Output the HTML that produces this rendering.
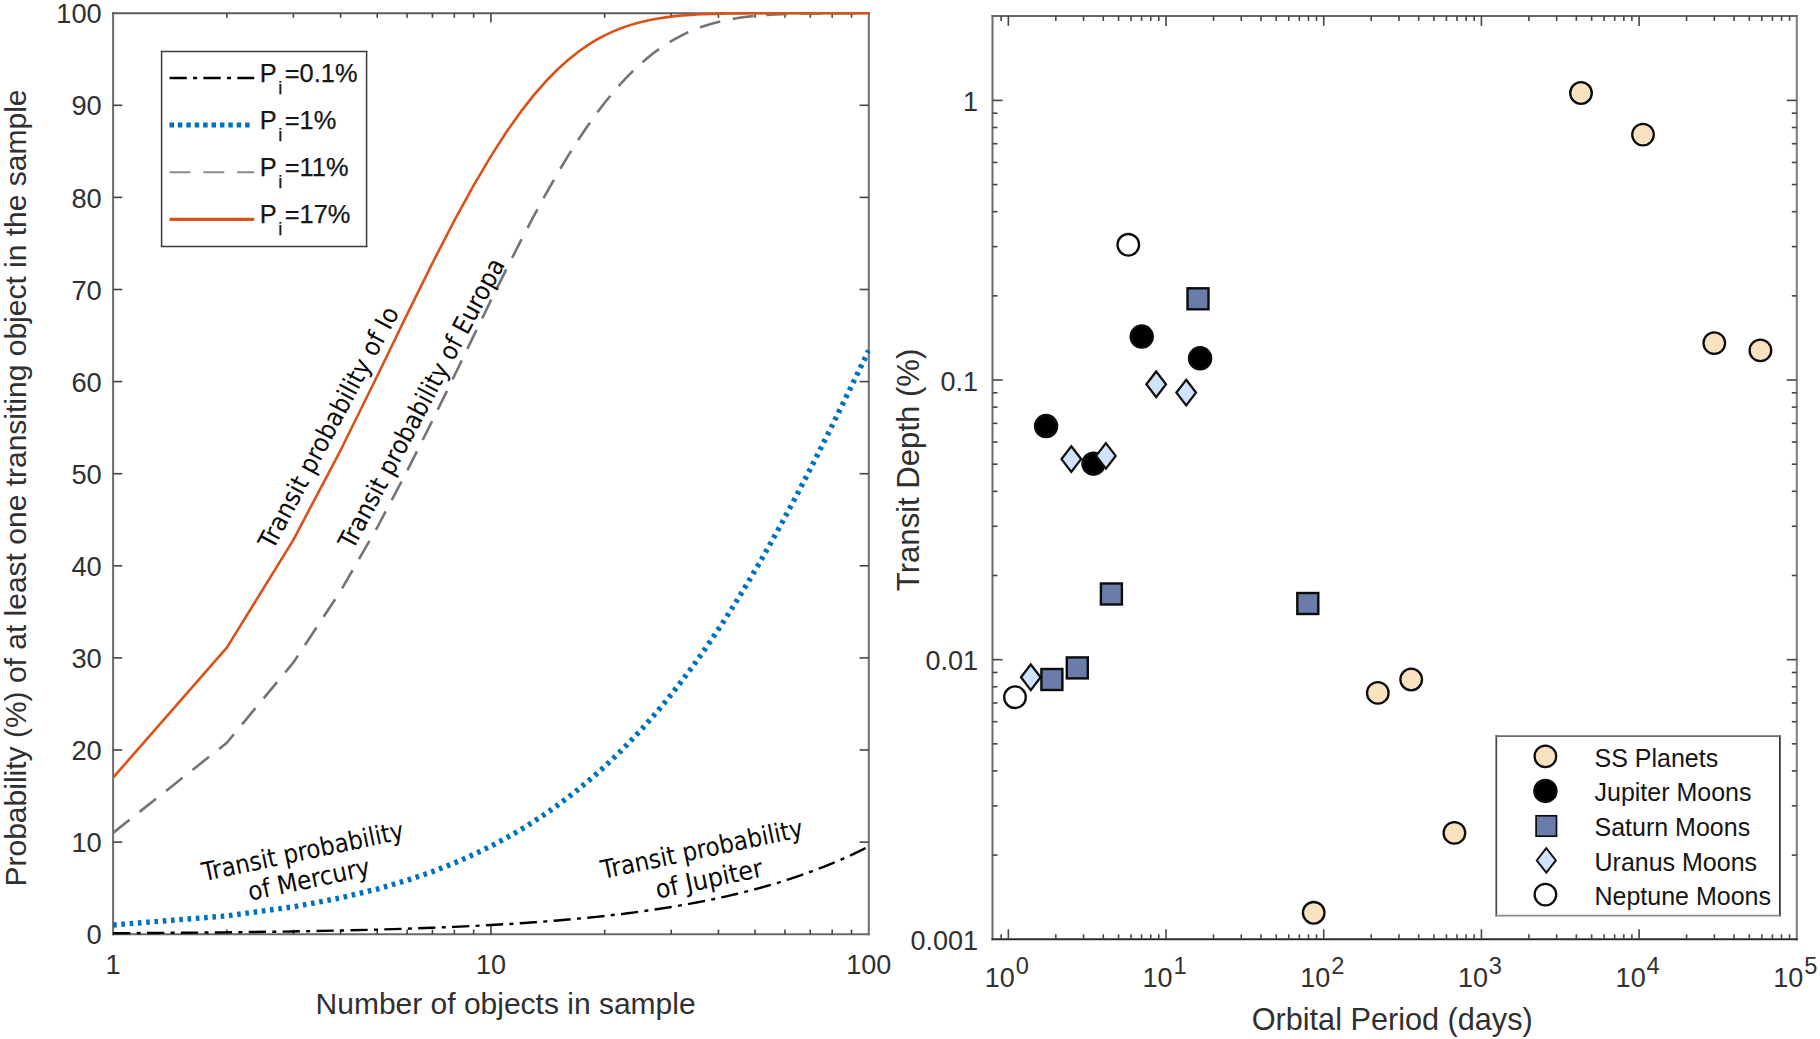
<!DOCTYPE html>
<html lang="en"><head><meta charset="utf-8"><title>Transit probability and transit depth</title>
<style>html,body{margin:0;padding:0;background:#fff}body{width:1820px;height:1039px;overflow:hidden}svg{display:block}text{white-space:pre}</style>
</head><body>
<svg width="1820" height="1039" viewBox="0 0 1820 1039" font-family='"Liberation Sans", sans-serif'>
<rect width="1820" height="1039" fill="#ffffff"/>
<line x1="113.10" y1="12.20" x2="113.10" y2="935.20" stroke="#6c6c6c" stroke-width="2.0" />
<line x1="868.80" y1="12.20" x2="868.80" y2="935.20" stroke="#6e6e6e" stroke-width="2.0" />
<line x1="112.10" y1="13.20" x2="869.80" y2="13.20" stroke="#5c5c5c" stroke-width="2.0" />
<line x1="112.10" y1="934.20" x2="869.80" y2="934.20" stroke="#686868" stroke-width="2.0" />
<line x1="226.84" y1="934.20" x2="226.84" y2="929.60" stroke="#454545" stroke-width="1.6" />
<line x1="226.84" y1="13.20" x2="226.84" y2="17.80" stroke="#454545" stroke-width="1.6" />
<line x1="293.38" y1="934.20" x2="293.38" y2="929.60" stroke="#454545" stroke-width="1.6" />
<line x1="293.38" y1="13.20" x2="293.38" y2="17.80" stroke="#454545" stroke-width="1.6" />
<line x1="340.59" y1="934.20" x2="340.59" y2="929.60" stroke="#454545" stroke-width="1.6" />
<line x1="340.59" y1="13.20" x2="340.59" y2="17.80" stroke="#454545" stroke-width="1.6" />
<line x1="377.21" y1="934.20" x2="377.21" y2="929.60" stroke="#454545" stroke-width="1.6" />
<line x1="377.21" y1="13.20" x2="377.21" y2="17.80" stroke="#454545" stroke-width="1.6" />
<line x1="407.12" y1="934.20" x2="407.12" y2="929.60" stroke="#454545" stroke-width="1.6" />
<line x1="407.12" y1="13.20" x2="407.12" y2="17.80" stroke="#454545" stroke-width="1.6" />
<line x1="432.42" y1="934.20" x2="432.42" y2="929.60" stroke="#454545" stroke-width="1.6" />
<line x1="432.42" y1="13.20" x2="432.42" y2="17.80" stroke="#454545" stroke-width="1.6" />
<line x1="454.33" y1="934.20" x2="454.33" y2="929.60" stroke="#454545" stroke-width="1.6" />
<line x1="454.33" y1="13.20" x2="454.33" y2="17.80" stroke="#454545" stroke-width="1.6" />
<line x1="473.66" y1="934.20" x2="473.66" y2="929.60" stroke="#454545" stroke-width="1.6" />
<line x1="473.66" y1="13.20" x2="473.66" y2="17.80" stroke="#454545" stroke-width="1.6" />
<line x1="490.95" y1="934.20" x2="490.95" y2="925.00" stroke="#454545" stroke-width="1.6" />
<line x1="490.95" y1="13.20" x2="490.95" y2="22.40" stroke="#454545" stroke-width="1.6" />
<line x1="604.69" y1="934.20" x2="604.69" y2="929.60" stroke="#454545" stroke-width="1.6" />
<line x1="604.69" y1="13.20" x2="604.69" y2="17.80" stroke="#454545" stroke-width="1.6" />
<line x1="671.23" y1="934.20" x2="671.23" y2="929.60" stroke="#454545" stroke-width="1.6" />
<line x1="671.23" y1="13.20" x2="671.23" y2="17.80" stroke="#454545" stroke-width="1.6" />
<line x1="718.44" y1="934.20" x2="718.44" y2="929.60" stroke="#454545" stroke-width="1.6" />
<line x1="718.44" y1="13.20" x2="718.44" y2="17.80" stroke="#454545" stroke-width="1.6" />
<line x1="755.06" y1="934.20" x2="755.06" y2="929.60" stroke="#454545" stroke-width="1.6" />
<line x1="755.06" y1="13.20" x2="755.06" y2="17.80" stroke="#454545" stroke-width="1.6" />
<line x1="784.97" y1="934.20" x2="784.97" y2="929.60" stroke="#454545" stroke-width="1.6" />
<line x1="784.97" y1="13.20" x2="784.97" y2="17.80" stroke="#454545" stroke-width="1.6" />
<line x1="810.27" y1="934.20" x2="810.27" y2="929.60" stroke="#454545" stroke-width="1.6" />
<line x1="810.27" y1="13.20" x2="810.27" y2="17.80" stroke="#454545" stroke-width="1.6" />
<line x1="832.18" y1="934.20" x2="832.18" y2="929.60" stroke="#454545" stroke-width="1.6" />
<line x1="832.18" y1="13.20" x2="832.18" y2="17.80" stroke="#454545" stroke-width="1.6" />
<line x1="851.51" y1="934.20" x2="851.51" y2="929.60" stroke="#454545" stroke-width="1.6" />
<line x1="851.51" y1="13.20" x2="851.51" y2="17.80" stroke="#454545" stroke-width="1.6" />
<line x1="113.10" y1="842.10" x2="122.30" y2="842.10" stroke="#454545" stroke-width="1.6" />
<line x1="868.80" y1="842.10" x2="859.60" y2="842.10" stroke="#454545" stroke-width="1.6" />
<line x1="113.10" y1="750.00" x2="122.30" y2="750.00" stroke="#454545" stroke-width="1.6" />
<line x1="868.80" y1="750.00" x2="859.60" y2="750.00" stroke="#454545" stroke-width="1.6" />
<line x1="113.10" y1="657.90" x2="122.30" y2="657.90" stroke="#454545" stroke-width="1.6" />
<line x1="868.80" y1="657.90" x2="859.60" y2="657.90" stroke="#454545" stroke-width="1.6" />
<line x1="113.10" y1="565.80" x2="122.30" y2="565.80" stroke="#454545" stroke-width="1.6" />
<line x1="868.80" y1="565.80" x2="859.60" y2="565.80" stroke="#454545" stroke-width="1.6" />
<line x1="113.10" y1="473.70" x2="122.30" y2="473.70" stroke="#454545" stroke-width="1.6" />
<line x1="868.80" y1="473.70" x2="859.60" y2="473.70" stroke="#454545" stroke-width="1.6" />
<line x1="113.10" y1="381.60" x2="122.30" y2="381.60" stroke="#454545" stroke-width="1.6" />
<line x1="868.80" y1="381.60" x2="859.60" y2="381.60" stroke="#454545" stroke-width="1.6" />
<line x1="113.10" y1="289.50" x2="122.30" y2="289.50" stroke="#454545" stroke-width="1.6" />
<line x1="868.80" y1="289.50" x2="859.60" y2="289.50" stroke="#454545" stroke-width="1.6" />
<line x1="113.10" y1="197.40" x2="122.30" y2="197.40" stroke="#454545" stroke-width="1.6" />
<line x1="868.80" y1="197.40" x2="859.60" y2="197.40" stroke="#454545" stroke-width="1.6" />
<line x1="113.10" y1="105.30" x2="122.30" y2="105.30" stroke="#454545" stroke-width="1.6" />
<line x1="868.80" y1="105.30" x2="859.60" y2="105.30" stroke="#454545" stroke-width="1.6" />
<clipPath id="cl"><rect x="112.6" y="10.2" width="757.6999999999999" height="927.0"/></clipPath>
<g clip-path="url(#cl)" fill="none" stroke-linejoin="round">
<polyline points="113.10,933.28 226.84,932.36 293.38,931.44 340.59,930.52 377.21,929.60 407.12,928.69 432.42,927.77 454.33,926.86 473.66,925.94 490.95,925.03 506.59,924.12 520.87,923.21 534.00,922.30 546.16,921.39 557.49,920.48 568.08,919.57 578.03,918.67 587.40,917.76 596.28,916.86 604.69,915.95 612.70,915.05 620.33,914.15 627.63,913.25 634.61,912.35 641.31,911.45 647.75,910.55 653.94,909.65 659.91,908.76 665.67,907.86 671.23,906.97 676.61,906.07 681.82,905.18 686.87,904.29 691.77,903.40 696.53,902.51 701.15,901.62 705.65,900.73 710.02,899.84 714.28,898.96 718.44,898.07 722.49,897.18 726.44,896.30 730.31,895.42 734.08,894.54 737.77,893.65 741.37,892.77 744.90,891.89 748.36,891.02 751.74,890.14 755.06,889.26 758.31,888.38 761.49,887.51 764.62,886.63 767.68,885.76 770.70,884.89 773.65,884.02 776.56,883.15 779.41,882.28 782.22,881.41 784.97,880.54 787.69,879.67 790.36,878.81 792.98,877.94 795.57,877.07 798.11,876.21 800.61,875.35 803.08,874.49 805.51,873.62 807.91,872.76 810.27,871.90 812.60,871.05 814.89,870.19 817.16,869.33 819.39,868.47 821.59,867.62 823.77,866.77 825.91,865.91 828.03,865.06 830.12,864.21 832.18,863.36 834.22,862.51 836.23,861.66 838.22,860.81 840.19,859.96 842.13,859.11 844.05,858.27 845.95,857.42 847.82,856.58 849.68,855.74 851.51,854.89 853.32,854.05 855.12,853.21 856.89,852.37 858.65,851.53 860.38,850.69 862.10,849.86 863.80,849.02 865.48,848.18 867.15,847.35 868.80,846.51" stroke="#000000" stroke-width="2.4" stroke-dasharray="17.3 6.3 4 6.3"/>
<polyline points="113.10,924.99 226.84,915.87 293.38,906.85 340.59,897.91 377.21,889.06 407.12,880.30 432.42,871.63 454.33,863.05 473.66,854.55 490.95,846.14 506.59,837.81 520.87,829.56 534.00,821.40 546.16,813.31 557.49,805.31 568.08,797.39 578.03,789.55 587.40,781.79 596.28,774.10 604.69,766.49 612.70,758.96 620.33,751.50 627.63,744.12 634.61,736.81 641.31,729.57 647.75,722.41 653.94,715.32 659.91,708.30 665.67,701.35 671.23,694.46 676.61,687.65 681.82,680.91 686.87,674.23 691.77,667.62 696.53,661.08 701.15,654.60 705.65,648.18 710.02,641.83 714.28,635.55 718.44,629.32 722.49,623.16 726.44,617.06 730.31,611.02 734.08,605.05 737.77,599.13 741.37,593.27 744.90,587.47 748.36,581.72 751.74,576.04 755.06,570.41 758.31,564.84 761.49,559.32 764.62,553.86 767.68,548.45 770.70,543.10 773.65,537.80 776.56,532.56 779.41,527.36 782.22,522.22 784.97,517.13 787.69,512.09 790.36,507.10 792.98,502.16 795.57,497.27 798.11,492.43 800.61,487.64 803.08,482.90 805.51,478.20 807.91,473.55 810.27,468.95 812.60,464.39 814.89,459.88 817.16,455.41 819.39,450.99 821.59,446.61 823.77,442.28 825.91,437.99 828.03,433.74 830.12,429.53 832.18,425.37 834.22,421.25 836.23,417.17 838.22,413.13 840.19,409.13 842.13,405.17 844.05,401.25 845.95,397.37 847.82,393.53 849.68,389.72 851.51,385.96 853.32,382.23 855.12,378.54 856.89,374.89 858.65,371.27 860.38,367.69 862.10,364.14 863.80,360.63 865.48,357.16 867.15,353.72 868.80,350.32" stroke="#0072bd" stroke-width="5.4" stroke-dasharray="3.6 4.7"/>
<polyline points="113.10,832.89 226.84,742.72 293.38,662.48 340.59,591.06 377.21,527.49 407.12,470.92 432.42,420.57 454.33,375.76 473.66,335.88 490.95,300.38 506.59,268.79 520.87,240.68 534.00,215.66 546.16,193.39 557.49,173.57 568.08,155.92 578.03,140.23 587.40,126.25 596.28,113.82 604.69,102.75 612.70,92.90 620.33,84.13 627.63,76.33 634.61,69.38 641.31,63.20 647.75,57.70 653.94,52.81 659.91,48.45 665.67,44.57 671.23,41.12 676.61,38.05 681.82,35.32 686.87,32.88 691.77,30.72 696.53,28.79 701.15,27.08 705.65,25.55 710.02,24.19 714.28,22.98 718.44,21.91 722.49,20.95 726.44,20.10 730.31,19.34 734.08,18.66 737.77,18.06 741.37,17.53 744.90,17.05 748.36,16.63 751.74,16.25 755.06,15.91 758.31,15.62 761.49,15.35 764.62,15.11 767.68,14.90 770.70,14.72 773.65,14.55 776.56,14.40 779.41,14.27 782.22,14.15 784.97,14.05 787.69,13.95 790.36,13.87 792.98,13.80 795.57,13.73 798.11,13.67 800.61,13.62 803.08,13.57 805.51,13.53 807.91,13.50 810.27,13.46 812.60,13.43 814.89,13.41 817.16,13.39 819.39,13.37 821.59,13.35 823.77,13.33 825.91,13.32 828.03,13.30 830.12,13.29 832.18,13.28 834.22,13.27 836.23,13.27 838.22,13.26 840.19,13.25 842.13,13.25 844.05,13.24 845.95,13.24 847.82,13.23 849.68,13.23 851.51,13.23 853.32,13.22 855.12,13.22 856.89,13.22 858.65,13.22 860.38,13.21 862.10,13.21 863.80,13.21 865.48,13.21 867.15,13.21 868.80,13.21" stroke="#747474" stroke-width="2.6" stroke-dasharray="21 12.8"/>
<polyline points="113.10,777.63 226.84,647.68 293.38,539.82 340.59,450.29 377.21,375.99 407.12,314.31 432.42,263.12 454.33,220.64 473.66,185.37 490.95,156.10 506.59,131.81 520.87,111.65 534.00,94.91 546.16,81.02 557.49,69.49 568.08,59.92 578.03,51.98 587.40,45.39 596.28,39.91 604.69,35.37 612.70,31.60 620.33,28.47 627.63,25.88 634.61,23.72 641.31,21.93 647.75,20.45 653.94,19.22 659.91,18.19 665.67,17.34 671.23,16.64 676.61,16.06 681.82,15.57 686.87,15.17 691.77,14.83 696.53,14.56 701.15,14.32 705.65,14.13 710.02,13.97 714.28,13.84 718.44,13.73 722.49,13.64 726.44,13.57 730.31,13.51 734.08,13.45 737.77,13.41 741.37,13.37 744.90,13.34 748.36,13.32 751.74,13.30 755.06,13.28 758.31,13.27 761.49,13.26 764.62,13.25 767.68,13.24 770.70,13.23 773.65,13.23 776.56,13.22 779.41,13.22 782.22,13.22 784.97,13.21 787.69,13.21 790.36,13.21 792.98,13.21 795.57,13.21 798.11,13.21 800.61,13.20 803.08,13.20 805.51,13.20 807.91,13.20 810.27,13.20 812.60,13.20 814.89,13.20 817.16,13.20 819.39,13.20 821.59,13.20 823.77,13.20 825.91,13.20 828.03,13.20 830.12,13.20 832.18,13.20 834.22,13.20 836.23,13.20 838.22,13.20 840.19,13.20 842.13,13.20 844.05,13.20 845.95,13.20 847.82,13.20 849.68,13.20 851.51,13.20 853.32,13.20 855.12,13.20 856.89,13.20 858.65,13.20 860.38,13.20 862.10,13.20 863.80,13.20 865.48,13.20 867.15,13.20 868.80,13.20" stroke="#d95319" stroke-width="2.6"/>
</g>
<text x="101.80" y="944.30" font-size="27.3" text-anchor="end" fill="#303030" >0</text>
<text x="101.80" y="852.20" font-size="27.3" text-anchor="end" fill="#303030" >10</text>
<text x="101.80" y="760.10" font-size="27.3" text-anchor="end" fill="#303030" >20</text>
<text x="101.80" y="668.00" font-size="27.3" text-anchor="end" fill="#303030" >30</text>
<text x="101.80" y="575.90" font-size="27.3" text-anchor="end" fill="#303030" >40</text>
<text x="101.80" y="483.80" font-size="27.3" text-anchor="end" fill="#303030" >50</text>
<text x="101.80" y="391.70" font-size="27.3" text-anchor="end" fill="#303030" >60</text>
<text x="101.80" y="299.60" font-size="27.3" text-anchor="end" fill="#303030" >70</text>
<text x="101.80" y="207.50" font-size="27.3" text-anchor="end" fill="#303030" >80</text>
<text x="101.80" y="115.40" font-size="27.3" text-anchor="end" fill="#303030" >90</text>
<text x="101.80" y="23.30" font-size="27.3" text-anchor="end" fill="#303030" >100</text>
<text x="113.10" y="974.30" font-size="27" text-anchor="middle" fill="#303030" >1</text>
<text x="490.95" y="974.30" font-size="27" text-anchor="middle" fill="#303030" >10</text>
<text x="868.80" y="974.30" font-size="27" text-anchor="middle" fill="#303030" >100</text>
<text x="505.60" y="1013.60" font-size="30" text-anchor="middle" fill="#303030" textLength="380.0" lengthAdjust="spacingAndGlyphs" >Number of objects in sample</text>
<text x="25.60" y="488.00" font-size="30.3" text-anchor="middle" fill="#303030" textLength="797.0" lengthAdjust="spacingAndGlyphs" transform="rotate(-90.00 25.60 488.00)" >Probability (%) of at least one transiting object in the sample</text>
<rect x="161.6" y="51.6" width="205" height="194.8" fill="#ffffff"/>
<line x1="161.60" y1="50.85" x2="161.60" y2="247.15" stroke="#3c3c3c" stroke-width="1.5" />
<line x1="366.60" y1="50.85" x2="366.60" y2="247.15" stroke="#3c3c3c" stroke-width="1.5" />
<line x1="160.85" y1="51.60" x2="367.35" y2="51.60" stroke="#3c3c3c" stroke-width="1.5" />
<line x1="160.85" y1="246.40" x2="367.35" y2="246.40" stroke="#3c3c3c" stroke-width="1.5" />
<line x1="169.50" y1="78.00" x2="254.20" y2="78.00" stroke="#000000" stroke-width="2.4" stroke-dasharray="17.3 6.3 4 6.3"/>
<text y="81.6" font-size="25.4" fill="#161616" stroke="#161616" stroke-width="0.25"><tspan x="259.7">P</tspan><tspan x="278.3" font-size="18.5" dy="12">i</tspan><tspan x="284.8" dy="-12">=0.1%</tspan></text>
<line x1="169.50" y1="125.10" x2="249.60" y2="125.10" stroke="#0072bd" stroke-width="5.0" stroke-dasharray="4.5 3.9"/>
<text y="128.70000000000002" font-size="25.4" fill="#161616" stroke="#161616" stroke-width="0.25"><tspan x="259.7">P</tspan><tspan x="278.3" font-size="18.5" dy="12">i</tspan><tspan x="284.8" dy="-12">=1%</tspan></text>
<line x1="169.50" y1="172.20" x2="254.20" y2="172.20" stroke="#8a8a8a" stroke-width="2.0" stroke-dasharray="21 12.8"/>
<text y="175.8" font-size="25.4" fill="#161616" stroke="#161616" stroke-width="0.25"><tspan x="259.7">P</tspan><tspan x="278.3" font-size="18.5" dy="12">i</tspan><tspan x="284.8" dy="-12">=11%</tspan></text>
<line x1="169.50" y1="219.30" x2="254.20" y2="219.30" stroke="#d95319" stroke-width="3.2" />
<text y="222.9" font-size="25.4" fill="#161616" stroke="#161616" stroke-width="0.25"><tspan x="259.7">P</tspan><tspan x="278.3" font-size="18.5" dy="12">i</tspan><tspan x="284.8" dy="-12">=17%</tspan></text>
<text x="273.00" y="550.80" font-size="25.5" text-anchor="start" fill="#0a0a0a" font-family='"DejaVu Sans Condensed", "DejaVu Sans", sans-serif' textLength="270.0" lengthAdjust="spacingAndGlyphs" transform="rotate(-62.00 273.00 550.80)" >Transit probability of Io</text>
<text x="353.00" y="550.80" font-size="25.5" text-anchor="start" fill="#0a0a0a" font-family='"DejaVu Sans Condensed", "DejaVu Sans", sans-serif' textLength="324.4" lengthAdjust="spacingAndGlyphs" transform="rotate(-62.00 353.00 550.80)" >Transit probability of Europa</text>
<text x="203.90" y="881.20" font-size="25.8" text-anchor="start" fill="#0a0a0a" font-family='"DejaVu Sans Condensed", "DejaVu Sans", sans-serif' textLength="205.6" lengthAdjust="spacingAndGlyphs" transform="rotate(-11.90 203.90 881.20)" >Transit probability</text>
<text x="250.00" y="900.80" font-size="25.8" text-anchor="start" fill="#0a0a0a" font-family='"DejaVu Sans Condensed", "DejaVu Sans", sans-serif' textLength="124.0" lengthAdjust="spacingAndGlyphs" transform="rotate(-11.90 250.00 900.80)" >of Mercury</text>
<text x="603.10" y="878.90" font-size="25.8" text-anchor="start" fill="#0a0a0a" font-family='"DejaVu Sans Condensed", "DejaVu Sans", sans-serif' textLength="205.6" lengthAdjust="spacingAndGlyphs" transform="rotate(-11.90 603.10 878.90)" >Transit probability</text>
<text x="657.50" y="898.70" font-size="25.8" text-anchor="start" fill="#0a0a0a" font-family='"DejaVu Sans Condensed", "DejaVu Sans", sans-serif' textLength="109.0" lengthAdjust="spacingAndGlyphs" transform="rotate(-11.90 657.50 898.70)" >of Jupiter</text>
<line x1="992.50" y1="14.90" x2="992.50" y2="940.30" stroke="#6c6c6c" stroke-width="2.0" />
<line x1="1796.80" y1="14.90" x2="1796.80" y2="940.30" stroke="#7c7c7c" stroke-width="2.0" />
<line x1="991.50" y1="15.90" x2="1797.80" y2="15.90" stroke="#686868" stroke-width="2.0" />
<line x1="991.50" y1="939.30" x2="1797.80" y2="939.30" stroke="#2c2c2c" stroke-width="2.0" />
<line x1="1001.13" y1="939.30" x2="1001.13" y2="934.30" stroke="#454545" stroke-width="1.6" />
<line x1="1001.13" y1="15.90" x2="1001.13" y2="20.90" stroke="#454545" stroke-width="1.6" />
<line x1="1008.35" y1="939.30" x2="1008.35" y2="929.30" stroke="#454545" stroke-width="1.6" />
<line x1="1008.35" y1="15.90" x2="1008.35" y2="25.90" stroke="#454545" stroke-width="1.6" />
<line x1="1055.82" y1="939.30" x2="1055.82" y2="934.30" stroke="#454545" stroke-width="1.6" />
<line x1="1055.82" y1="15.90" x2="1055.82" y2="20.90" stroke="#454545" stroke-width="1.6" />
<line x1="1083.59" y1="939.30" x2="1083.59" y2="934.30" stroke="#454545" stroke-width="1.6" />
<line x1="1083.59" y1="15.90" x2="1083.59" y2="20.90" stroke="#454545" stroke-width="1.6" />
<line x1="1103.29" y1="939.30" x2="1103.29" y2="934.30" stroke="#454545" stroke-width="1.6" />
<line x1="1103.29" y1="15.90" x2="1103.29" y2="20.90" stroke="#454545" stroke-width="1.6" />
<line x1="1118.57" y1="939.30" x2="1118.57" y2="934.30" stroke="#454545" stroke-width="1.6" />
<line x1="1118.57" y1="15.90" x2="1118.57" y2="20.90" stroke="#454545" stroke-width="1.6" />
<line x1="1131.06" y1="939.30" x2="1131.06" y2="934.30" stroke="#454545" stroke-width="1.6" />
<line x1="1131.06" y1="15.90" x2="1131.06" y2="20.90" stroke="#454545" stroke-width="1.6" />
<line x1="1141.61" y1="939.30" x2="1141.61" y2="934.30" stroke="#454545" stroke-width="1.6" />
<line x1="1141.61" y1="15.90" x2="1141.61" y2="20.90" stroke="#454545" stroke-width="1.6" />
<line x1="1150.76" y1="939.30" x2="1150.76" y2="934.30" stroke="#454545" stroke-width="1.6" />
<line x1="1150.76" y1="15.90" x2="1150.76" y2="20.90" stroke="#454545" stroke-width="1.6" />
<line x1="1158.82" y1="939.30" x2="1158.82" y2="934.30" stroke="#454545" stroke-width="1.6" />
<line x1="1158.82" y1="15.90" x2="1158.82" y2="20.90" stroke="#454545" stroke-width="1.6" />
<line x1="1166.04" y1="939.30" x2="1166.04" y2="929.30" stroke="#454545" stroke-width="1.6" />
<line x1="1166.04" y1="15.90" x2="1166.04" y2="25.90" stroke="#454545" stroke-width="1.6" />
<line x1="1213.51" y1="939.30" x2="1213.51" y2="934.30" stroke="#454545" stroke-width="1.6" />
<line x1="1213.51" y1="15.90" x2="1213.51" y2="20.90" stroke="#454545" stroke-width="1.6" />
<line x1="1241.28" y1="939.30" x2="1241.28" y2="934.30" stroke="#454545" stroke-width="1.6" />
<line x1="1241.28" y1="15.90" x2="1241.28" y2="20.90" stroke="#454545" stroke-width="1.6" />
<line x1="1260.98" y1="939.30" x2="1260.98" y2="934.30" stroke="#454545" stroke-width="1.6" />
<line x1="1260.98" y1="15.90" x2="1260.98" y2="20.90" stroke="#454545" stroke-width="1.6" />
<line x1="1276.26" y1="939.30" x2="1276.26" y2="934.30" stroke="#454545" stroke-width="1.6" />
<line x1="1276.26" y1="15.90" x2="1276.26" y2="20.90" stroke="#454545" stroke-width="1.6" />
<line x1="1288.75" y1="939.30" x2="1288.75" y2="934.30" stroke="#454545" stroke-width="1.6" />
<line x1="1288.75" y1="15.90" x2="1288.75" y2="20.90" stroke="#454545" stroke-width="1.6" />
<line x1="1299.30" y1="939.30" x2="1299.30" y2="934.30" stroke="#454545" stroke-width="1.6" />
<line x1="1299.30" y1="15.90" x2="1299.30" y2="20.90" stroke="#454545" stroke-width="1.6" />
<line x1="1308.45" y1="939.30" x2="1308.45" y2="934.30" stroke="#454545" stroke-width="1.6" />
<line x1="1308.45" y1="15.90" x2="1308.45" y2="20.90" stroke="#454545" stroke-width="1.6" />
<line x1="1316.51" y1="939.30" x2="1316.51" y2="934.30" stroke="#454545" stroke-width="1.6" />
<line x1="1316.51" y1="15.90" x2="1316.51" y2="20.90" stroke="#454545" stroke-width="1.6" />
<line x1="1323.73" y1="939.30" x2="1323.73" y2="929.30" stroke="#454545" stroke-width="1.6" />
<line x1="1323.73" y1="15.90" x2="1323.73" y2="25.90" stroke="#454545" stroke-width="1.6" />
<line x1="1371.20" y1="939.30" x2="1371.20" y2="934.30" stroke="#454545" stroke-width="1.6" />
<line x1="1371.20" y1="15.90" x2="1371.20" y2="20.90" stroke="#454545" stroke-width="1.6" />
<line x1="1398.97" y1="939.30" x2="1398.97" y2="934.30" stroke="#454545" stroke-width="1.6" />
<line x1="1398.97" y1="15.90" x2="1398.97" y2="20.90" stroke="#454545" stroke-width="1.6" />
<line x1="1418.67" y1="939.30" x2="1418.67" y2="934.30" stroke="#454545" stroke-width="1.6" />
<line x1="1418.67" y1="15.90" x2="1418.67" y2="20.90" stroke="#454545" stroke-width="1.6" />
<line x1="1433.95" y1="939.30" x2="1433.95" y2="934.30" stroke="#454545" stroke-width="1.6" />
<line x1="1433.95" y1="15.90" x2="1433.95" y2="20.90" stroke="#454545" stroke-width="1.6" />
<line x1="1446.44" y1="939.30" x2="1446.44" y2="934.30" stroke="#454545" stroke-width="1.6" />
<line x1="1446.44" y1="15.90" x2="1446.44" y2="20.90" stroke="#454545" stroke-width="1.6" />
<line x1="1456.99" y1="939.30" x2="1456.99" y2="934.30" stroke="#454545" stroke-width="1.6" />
<line x1="1456.99" y1="15.90" x2="1456.99" y2="20.90" stroke="#454545" stroke-width="1.6" />
<line x1="1466.14" y1="939.30" x2="1466.14" y2="934.30" stroke="#454545" stroke-width="1.6" />
<line x1="1466.14" y1="15.90" x2="1466.14" y2="20.90" stroke="#454545" stroke-width="1.6" />
<line x1="1474.20" y1="939.30" x2="1474.20" y2="934.30" stroke="#454545" stroke-width="1.6" />
<line x1="1474.20" y1="15.90" x2="1474.20" y2="20.90" stroke="#454545" stroke-width="1.6" />
<line x1="1481.42" y1="939.30" x2="1481.42" y2="929.30" stroke="#454545" stroke-width="1.6" />
<line x1="1481.42" y1="15.90" x2="1481.42" y2="25.90" stroke="#454545" stroke-width="1.6" />
<line x1="1528.89" y1="939.30" x2="1528.89" y2="934.30" stroke="#454545" stroke-width="1.6" />
<line x1="1528.89" y1="15.90" x2="1528.89" y2="20.90" stroke="#454545" stroke-width="1.6" />
<line x1="1556.66" y1="939.30" x2="1556.66" y2="934.30" stroke="#454545" stroke-width="1.6" />
<line x1="1556.66" y1="15.90" x2="1556.66" y2="20.90" stroke="#454545" stroke-width="1.6" />
<line x1="1576.36" y1="939.30" x2="1576.36" y2="934.30" stroke="#454545" stroke-width="1.6" />
<line x1="1576.36" y1="15.90" x2="1576.36" y2="20.90" stroke="#454545" stroke-width="1.6" />
<line x1="1591.64" y1="939.30" x2="1591.64" y2="934.30" stroke="#454545" stroke-width="1.6" />
<line x1="1591.64" y1="15.90" x2="1591.64" y2="20.90" stroke="#454545" stroke-width="1.6" />
<line x1="1604.13" y1="939.30" x2="1604.13" y2="934.30" stroke="#454545" stroke-width="1.6" />
<line x1="1604.13" y1="15.90" x2="1604.13" y2="20.90" stroke="#454545" stroke-width="1.6" />
<line x1="1614.68" y1="939.30" x2="1614.68" y2="934.30" stroke="#454545" stroke-width="1.6" />
<line x1="1614.68" y1="15.90" x2="1614.68" y2="20.90" stroke="#454545" stroke-width="1.6" />
<line x1="1623.83" y1="939.30" x2="1623.83" y2="934.30" stroke="#454545" stroke-width="1.6" />
<line x1="1623.83" y1="15.90" x2="1623.83" y2="20.90" stroke="#454545" stroke-width="1.6" />
<line x1="1631.89" y1="939.30" x2="1631.89" y2="934.30" stroke="#454545" stroke-width="1.6" />
<line x1="1631.89" y1="15.90" x2="1631.89" y2="20.90" stroke="#454545" stroke-width="1.6" />
<line x1="1639.11" y1="939.30" x2="1639.11" y2="929.30" stroke="#454545" stroke-width="1.6" />
<line x1="1639.11" y1="15.90" x2="1639.11" y2="25.90" stroke="#454545" stroke-width="1.6" />
<line x1="1686.58" y1="939.30" x2="1686.58" y2="934.30" stroke="#454545" stroke-width="1.6" />
<line x1="1686.58" y1="15.90" x2="1686.58" y2="20.90" stroke="#454545" stroke-width="1.6" />
<line x1="1714.35" y1="939.30" x2="1714.35" y2="934.30" stroke="#454545" stroke-width="1.6" />
<line x1="1714.35" y1="15.90" x2="1714.35" y2="20.90" stroke="#454545" stroke-width="1.6" />
<line x1="1734.05" y1="939.30" x2="1734.05" y2="934.30" stroke="#454545" stroke-width="1.6" />
<line x1="1734.05" y1="15.90" x2="1734.05" y2="20.90" stroke="#454545" stroke-width="1.6" />
<line x1="1749.33" y1="939.30" x2="1749.33" y2="934.30" stroke="#454545" stroke-width="1.6" />
<line x1="1749.33" y1="15.90" x2="1749.33" y2="20.90" stroke="#454545" stroke-width="1.6" />
<line x1="1761.82" y1="939.30" x2="1761.82" y2="934.30" stroke="#454545" stroke-width="1.6" />
<line x1="1761.82" y1="15.90" x2="1761.82" y2="20.90" stroke="#454545" stroke-width="1.6" />
<line x1="1772.37" y1="939.30" x2="1772.37" y2="934.30" stroke="#454545" stroke-width="1.6" />
<line x1="1772.37" y1="15.90" x2="1772.37" y2="20.90" stroke="#454545" stroke-width="1.6" />
<line x1="1781.52" y1="939.30" x2="1781.52" y2="934.30" stroke="#454545" stroke-width="1.6" />
<line x1="1781.52" y1="15.90" x2="1781.52" y2="20.90" stroke="#454545" stroke-width="1.6" />
<line x1="1789.58" y1="939.30" x2="1789.58" y2="934.30" stroke="#454545" stroke-width="1.6" />
<line x1="1789.58" y1="15.90" x2="1789.58" y2="20.90" stroke="#454545" stroke-width="1.6" />
<line x1="992.50" y1="855.12" x2="997.50" y2="855.12" stroke="#454545" stroke-width="1.6" />
<line x1="1796.80" y1="855.12" x2="1791.80" y2="855.12" stroke="#454545" stroke-width="1.6" />
<line x1="992.50" y1="805.88" x2="997.50" y2="805.88" stroke="#454545" stroke-width="1.6" />
<line x1="1796.80" y1="805.88" x2="1791.80" y2="805.88" stroke="#454545" stroke-width="1.6" />
<line x1="992.50" y1="770.94" x2="997.50" y2="770.94" stroke="#454545" stroke-width="1.6" />
<line x1="1796.80" y1="770.94" x2="1791.80" y2="770.94" stroke="#454545" stroke-width="1.6" />
<line x1="992.50" y1="743.84" x2="997.50" y2="743.84" stroke="#454545" stroke-width="1.6" />
<line x1="1796.80" y1="743.84" x2="1791.80" y2="743.84" stroke="#454545" stroke-width="1.6" />
<line x1="992.50" y1="721.70" x2="997.50" y2="721.70" stroke="#454545" stroke-width="1.6" />
<line x1="1796.80" y1="721.70" x2="1791.80" y2="721.70" stroke="#454545" stroke-width="1.6" />
<line x1="992.50" y1="702.98" x2="997.50" y2="702.98" stroke="#454545" stroke-width="1.6" />
<line x1="1796.80" y1="702.98" x2="1791.80" y2="702.98" stroke="#454545" stroke-width="1.6" />
<line x1="992.50" y1="686.77" x2="997.50" y2="686.77" stroke="#454545" stroke-width="1.6" />
<line x1="1796.80" y1="686.77" x2="1791.80" y2="686.77" stroke="#454545" stroke-width="1.6" />
<line x1="992.50" y1="672.46" x2="997.50" y2="672.46" stroke="#454545" stroke-width="1.6" />
<line x1="1796.80" y1="672.46" x2="1791.80" y2="672.46" stroke="#454545" stroke-width="1.6" />
<line x1="992.50" y1="659.67" x2="1002.50" y2="659.67" stroke="#454545" stroke-width="1.6" />
<line x1="1796.80" y1="659.67" x2="1786.80" y2="659.67" stroke="#454545" stroke-width="1.6" />
<line x1="992.50" y1="575.49" x2="997.50" y2="575.49" stroke="#454545" stroke-width="1.6" />
<line x1="1796.80" y1="575.49" x2="1791.80" y2="575.49" stroke="#454545" stroke-width="1.6" />
<line x1="992.50" y1="526.25" x2="997.50" y2="526.25" stroke="#454545" stroke-width="1.6" />
<line x1="1796.80" y1="526.25" x2="1791.80" y2="526.25" stroke="#454545" stroke-width="1.6" />
<line x1="992.50" y1="491.31" x2="997.50" y2="491.31" stroke="#454545" stroke-width="1.6" />
<line x1="1796.80" y1="491.31" x2="1791.80" y2="491.31" stroke="#454545" stroke-width="1.6" />
<line x1="992.50" y1="464.21" x2="997.50" y2="464.21" stroke="#454545" stroke-width="1.6" />
<line x1="1796.80" y1="464.21" x2="1791.80" y2="464.21" stroke="#454545" stroke-width="1.6" />
<line x1="992.50" y1="442.07" x2="997.50" y2="442.07" stroke="#454545" stroke-width="1.6" />
<line x1="1796.80" y1="442.07" x2="1791.80" y2="442.07" stroke="#454545" stroke-width="1.6" />
<line x1="992.50" y1="423.35" x2="997.50" y2="423.35" stroke="#454545" stroke-width="1.6" />
<line x1="1796.80" y1="423.35" x2="1791.80" y2="423.35" stroke="#454545" stroke-width="1.6" />
<line x1="992.50" y1="407.13" x2="997.50" y2="407.13" stroke="#454545" stroke-width="1.6" />
<line x1="1796.80" y1="407.13" x2="1791.80" y2="407.13" stroke="#454545" stroke-width="1.6" />
<line x1="992.50" y1="392.83" x2="997.50" y2="392.83" stroke="#454545" stroke-width="1.6" />
<line x1="1796.80" y1="392.83" x2="1791.80" y2="392.83" stroke="#454545" stroke-width="1.6" />
<line x1="992.50" y1="380.03" x2="1002.50" y2="380.03" stroke="#454545" stroke-width="1.6" />
<line x1="1796.80" y1="380.03" x2="1786.80" y2="380.03" stroke="#454545" stroke-width="1.6" />
<line x1="992.50" y1="295.86" x2="997.50" y2="295.86" stroke="#454545" stroke-width="1.6" />
<line x1="1796.80" y1="295.86" x2="1791.80" y2="295.86" stroke="#454545" stroke-width="1.6" />
<line x1="992.50" y1="246.61" x2="997.50" y2="246.61" stroke="#454545" stroke-width="1.6" />
<line x1="1796.80" y1="246.61" x2="1791.80" y2="246.61" stroke="#454545" stroke-width="1.6" />
<line x1="992.50" y1="211.68" x2="997.50" y2="211.68" stroke="#454545" stroke-width="1.6" />
<line x1="1796.80" y1="211.68" x2="1791.80" y2="211.68" stroke="#454545" stroke-width="1.6" />
<line x1="992.50" y1="184.58" x2="997.50" y2="184.58" stroke="#454545" stroke-width="1.6" />
<line x1="1796.80" y1="184.58" x2="1791.80" y2="184.58" stroke="#454545" stroke-width="1.6" />
<line x1="992.50" y1="162.44" x2="997.50" y2="162.44" stroke="#454545" stroke-width="1.6" />
<line x1="1796.80" y1="162.44" x2="1791.80" y2="162.44" stroke="#454545" stroke-width="1.6" />
<line x1="992.50" y1="143.72" x2="997.50" y2="143.72" stroke="#454545" stroke-width="1.6" />
<line x1="1796.80" y1="143.72" x2="1791.80" y2="143.72" stroke="#454545" stroke-width="1.6" />
<line x1="992.50" y1="127.50" x2="997.50" y2="127.50" stroke="#454545" stroke-width="1.6" />
<line x1="1796.80" y1="127.50" x2="1791.80" y2="127.50" stroke="#454545" stroke-width="1.6" />
<line x1="992.50" y1="113.20" x2="997.50" y2="113.20" stroke="#454545" stroke-width="1.6" />
<line x1="1796.80" y1="113.20" x2="1791.80" y2="113.20" stroke="#454545" stroke-width="1.6" />
<line x1="992.50" y1="100.40" x2="1002.50" y2="100.40" stroke="#454545" stroke-width="1.6" />
<line x1="1796.80" y1="100.40" x2="1786.80" y2="100.40" stroke="#454545" stroke-width="1.6" />
<text x="978.00" y="111.00" font-size="27" text-anchor="end" fill="#303030" >1</text>
<text x="978.00" y="390.63" font-size="27" text-anchor="end" fill="#303030" >0.1</text>
<text x="978.00" y="670.27" font-size="27" text-anchor="end" fill="#303030" >0.01</text>
<text x="978.00" y="949.90" font-size="27" text-anchor="end" fill="#303030" >0.001</text>
<text x="984.85" y="986.7" font-size="27" fill="#303030">10<tspan font-size="23.6" dy="-12.4" dx="0.9">0</tspan></text>
<text x="1142.54" y="986.7" font-size="27" fill="#303030">10<tspan font-size="23.6" dy="-12.4" dx="0.9">1</tspan></text>
<text x="1300.23" y="986.7" font-size="27" fill="#303030">10<tspan font-size="23.6" dy="-12.4" dx="0.9">2</tspan></text>
<text x="1457.92" y="986.7" font-size="27" fill="#303030">10<tspan font-size="23.6" dy="-12.4" dx="0.9">3</tspan></text>
<text x="1615.61" y="986.7" font-size="27" fill="#303030">10<tspan font-size="23.6" dy="-12.4" dx="0.9">4</tspan></text>
<text x="1773.30" y="986.7" font-size="27" fill="#303030">10<tspan font-size="23.6" dy="-12.4" dx="0.9">5</tspan></text>
<text x="1392.20" y="1029.60" font-size="30.7" text-anchor="middle" fill="#303030" textLength="281.0" lengthAdjust="spacingAndGlyphs" >Orbital Period (days)</text>
<text x="919.50" y="469.90" font-size="31" text-anchor="middle" fill="#303030" textLength="242.5" lengthAdjust="spacingAndGlyphs" transform="rotate(-90.00 919.50 469.90)" >Transit Depth (%)</text>
<circle cx="1313.7" cy="912.8" r="10.8" fill="#f8e2bf" stroke="#0c0c0c" stroke-width="2.3"/>
<circle cx="1377.8" cy="692.9" r="10.8" fill="#f8e2bf" stroke="#0c0c0c" stroke-width="2.3"/>
<circle cx="1411.2" cy="679.5" r="10.8" fill="#f8e2bf" stroke="#0c0c0c" stroke-width="2.3"/>
<circle cx="1454.4" cy="832.9" r="10.8" fill="#f8e2bf" stroke="#0c0c0c" stroke-width="2.3"/>
<circle cx="1581.0" cy="93.0" r="10.8" fill="#f8e2bf" stroke="#0c0c0c" stroke-width="2.3"/>
<circle cx="1643.0" cy="134.6" r="10.8" fill="#f8e2bf" stroke="#0c0c0c" stroke-width="2.3"/>
<circle cx="1714.3" cy="343.1" r="10.8" fill="#f8e2bf" stroke="#0c0c0c" stroke-width="2.3"/>
<circle cx="1760.4" cy="350.4" r="10.8" fill="#f8e2bf" stroke="#0c0c0c" stroke-width="2.3"/>
<circle cx="1046.1" cy="426.1" r="11.1" fill="#000" stroke="#0c0c0c" stroke-width="2.3"/>
<circle cx="1093.5" cy="463.7" r="11.1" fill="#000" stroke="#0c0c0c" stroke-width="2.3"/>
<circle cx="1141.7" cy="336.6" r="11.1" fill="#000" stroke="#0c0c0c" stroke-width="2.3"/>
<circle cx="1200.1" cy="358.3" r="11.1" fill="#000" stroke="#0c0c0c" stroke-width="2.3"/>
<path d="M1030.8 664.5L1040.6 677.3L1030.8 690.1L1021.0 677.3Z" fill="#cfe4fc" stroke="#111" stroke-width="2.3" stroke-linejoin="miter"/>
<rect x="1100.9" y="583.5" width="21.0" height="21.0" fill="#6a7daa" stroke="#0c0c0c" stroke-width="2.4"/>
<rect x="1297.3" y="593.0" width="21.0" height="21.0" fill="#6a7daa" stroke="#0c0c0c" stroke-width="2.4"/>
<rect x="1066.8" y="657.4" width="21.0" height="21.0" fill="#6a7daa" stroke="#0c0c0c" stroke-width="2.4"/>
<rect x="1041.4" y="669.0" width="21.0" height="21.0" fill="#6a7daa" stroke="#0c0c0c" stroke-width="2.4"/>
<rect x="1187.5" y="288.3" width="21.0" height="21.0" fill="#6a7daa" stroke="#0c0c0c" stroke-width="2.4"/>
<path d="M1156.2 371.5L1166.0 384.3L1156.2 397.1L1146.4 384.3Z" fill="#cfe4fc" stroke="#111" stroke-width="2.3" stroke-linejoin="miter"/>
<path d="M1186.2 379.8L1196.0 392.6L1186.2 405.4L1176.4 392.6Z" fill="#cfe4fc" stroke="#111" stroke-width="2.3" stroke-linejoin="miter"/>
<path d="M1071.3 446.3L1081.1 459.1L1071.3 471.9L1061.5 459.1Z" fill="#cfe4fc" stroke="#111" stroke-width="2.3" stroke-linejoin="miter"/>
<path d="M1105.9 443.1L1115.7 455.9L1105.9 468.7L1096.1 455.9Z" fill="#cfe4fc" stroke="#111" stroke-width="2.3" stroke-linejoin="miter"/>
<circle cx="1128.3" cy="244.8" r="10.8" fill="#fff" stroke="#0c0c0c" stroke-width="2.3"/>
<circle cx="1015.0" cy="697.2" r="10.8" fill="#fff" stroke="#0c0c0c" stroke-width="2.3"/>
<rect x="1496.3" y="736.1" width="283.6" height="179.6" fill="#ffffff"/>
<line x1="1496.30" y1="735.25" x2="1496.30" y2="916.55" stroke="#4a4a4a" stroke-width="1.7" />
<line x1="1779.90" y1="735.25" x2="1779.90" y2="916.55" stroke="#303030" stroke-width="1.7" />
<line x1="1495.45" y1="736.10" x2="1780.75" y2="736.10" stroke="#6a6a6a" stroke-width="1.7" />
<line x1="1495.45" y1="915.70" x2="1780.75" y2="915.70" stroke="#8c8c8c" stroke-width="1.7" />
<circle cx="1545.4" cy="756.4" r="10.8" fill="#f8e2bf" stroke="#0c0c0c" stroke-width="2.3"/>
<circle cx="1545.4" cy="790.9" r="11.1" fill="#000" stroke="#0c0c0c" stroke-width="2.3"/>
<rect x="1536.1" y="815.8" width="20.4" height="20.4" fill="#6a7daa" stroke="#0c0c0c" stroke-width="1.7"/>
<path d="M1546.3 848.1L1555.9 860.4L1546.3 872.7L1536.7 860.4Z" fill="#cfe4fc" stroke="#111" stroke-width="1.9" stroke-linejoin="miter"/>
<circle cx="1545.4" cy="894.6" r="10.8" fill="#fff" stroke="#0c0c0c" stroke-width="2.3"/>
<text x="1594.50" y="766.70" font-size="25" text-anchor="start" fill="#151515" >SS Planets</text>
<text x="1594.50" y="801.20" font-size="25" text-anchor="start" fill="#151515" >Jupiter Moons</text>
<text x="1594.50" y="835.90" font-size="25" text-anchor="start" fill="#151515" >Saturn Moons</text>
<text x="1594.50" y="870.70" font-size="25" text-anchor="start" fill="#151515" >Uranus Moons</text>
<text x="1594.50" y="904.90" font-size="25" text-anchor="start" fill="#151515" >Neptune Moons</text>
</svg>
</body></html>
